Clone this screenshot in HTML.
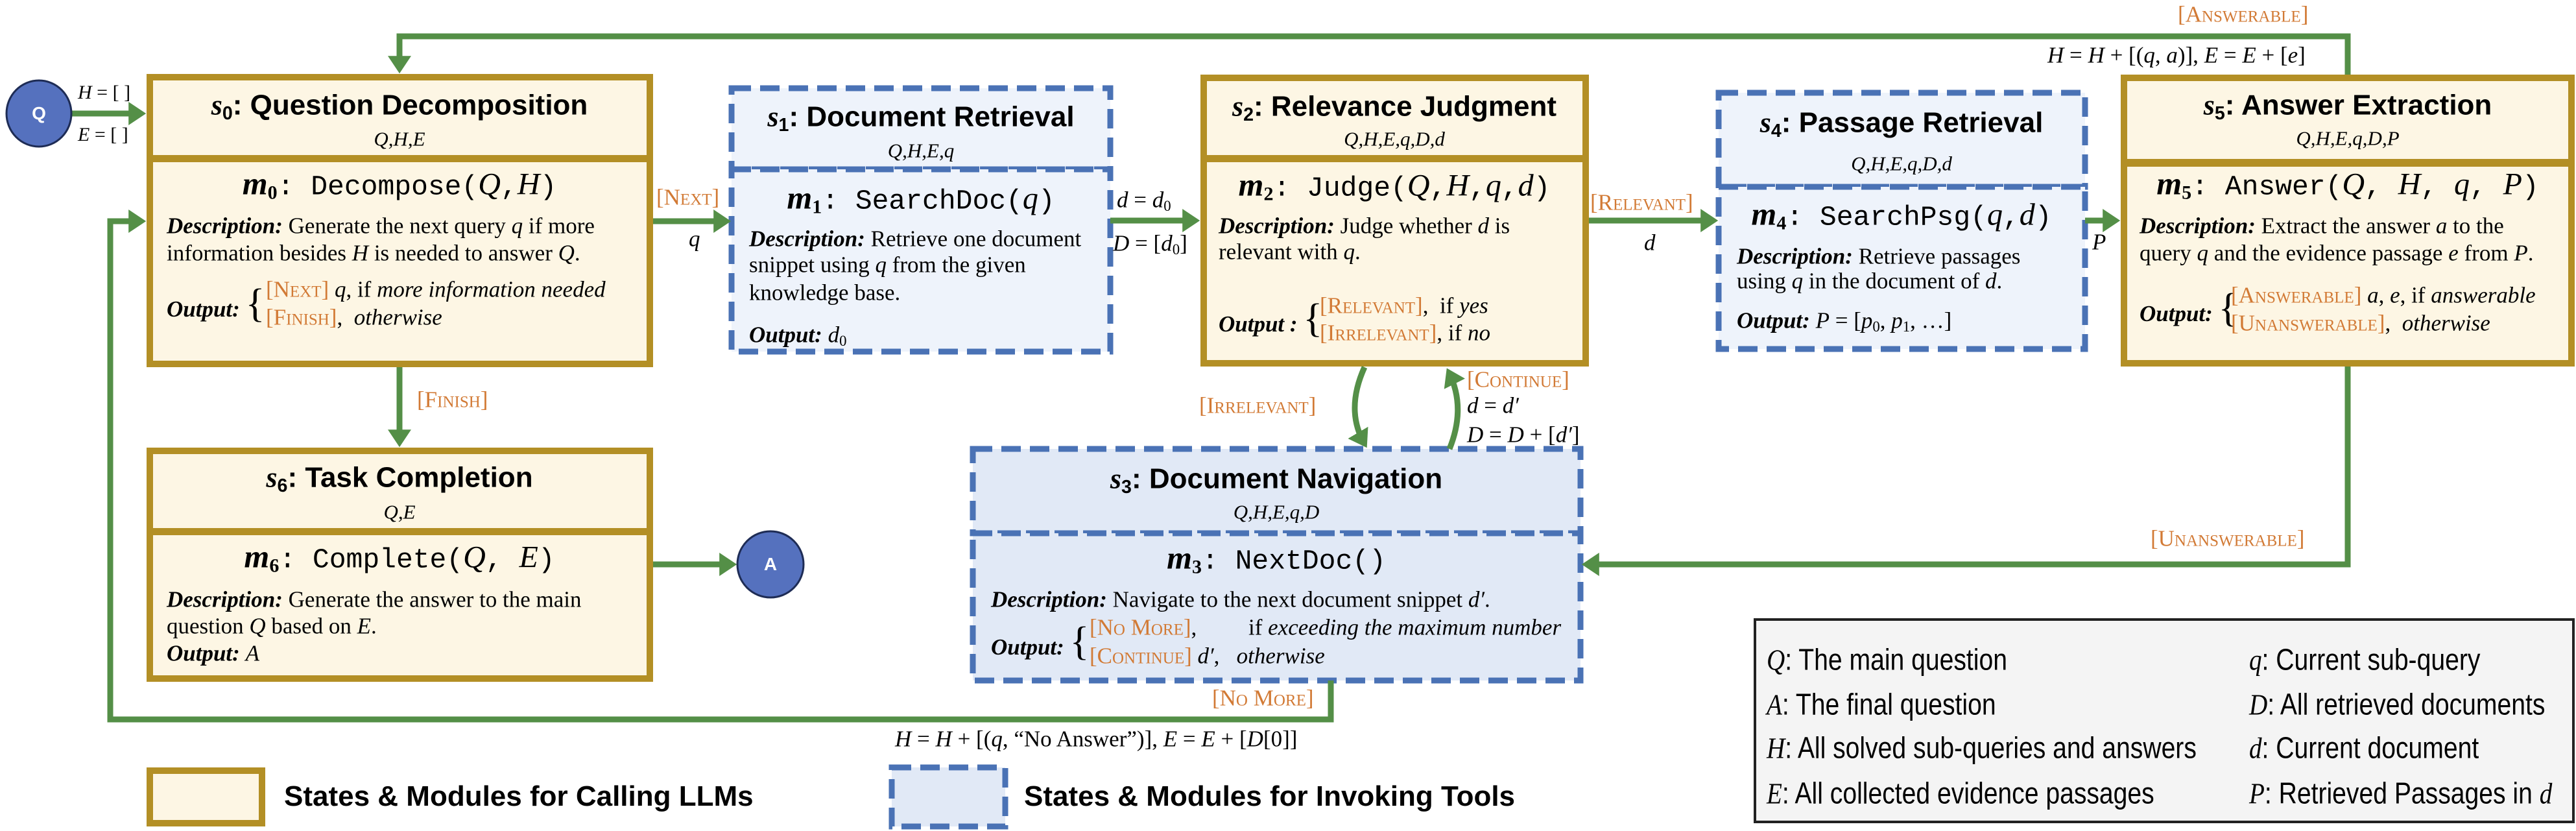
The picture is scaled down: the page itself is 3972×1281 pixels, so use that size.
<!DOCTYPE html>
<html><head><meta charset="utf-8"><style>
body{margin:0;width:3972px;height:1281px;background:#fff;position:relative;overflow:hidden;font-family:"Liberation Serif",serif;}
.t{position:absolute;white-space:nowrap;line-height:1;transform:translateY(-50%);}
.c{transform:translate(-50%,-50%);}
.h{font-family:"Liberation Sans Narrow","Liberation Sans",sans-serif;font-weight:bold;font-size:44px;}
.h i{font-family:"Liberation Serif",serif;}
.sub{font-style:italic;font-size:31px;}
.m{font-family:"Liberation Mono",monospace;font-size:43px;}
.m b{font-family:"Liberation Serif",serif;font-style:italic;font-size:50px;}
.m i{font-family:"Liberation Serif",serif;font-size:48px;}
.d{font-size:35px;}
.o{color:#d27a35;font-variant:small-caps;}
.lg{font-family:"Liberation Sans Narrow","Liberation Sans",sans-serif;font-size:46px;transform:translateY(-50%) scaleX(0.85);transform-origin:left center;}
.lg i{font-family:"Liberation Serif",serif;}
sub{font-size:65%;vertical-align:-0.25em;}
</style></head><body>
<svg width="3972" height="1281" style="position:absolute;left:0;top:0">
<defs><marker id="a" markerWidth="4" markerHeight="4" refX="2.2" refY="2" orient="auto" markerUnits="strokeWidth"><path d="M0,0 L3,2 L0,4 z" fill="#548f47"/></marker></defs>
<g fill="#b38f25">
<rect x="226" y="114" width="781" height="452"/><rect x="1851" y="115" width="599" height="450"/><rect x="3270" y="115" width="700" height="450"/><rect x="226" y="690" width="781" height="361"/><rect x="226" y="1183" width="183" height="91"/></g>
<g fill="#fdf6e4">
<rect x="236" y="124" width="761" height="115"/><rect x="236" y="250" width="761" height="306"/>
<rect x="1861" y="125" width="579" height="114"/><rect x="1861" y="250" width="579" height="305"/>
<rect x="3280" y="125" width="680" height="120"/><rect x="3280" y="257" width="680" height="298"/>
<rect x="236" y="700" width="761" height="114"/><rect x="236" y="825" width="761" height="216"/>
<rect x="236" y="1193" width="163" height="71"/></g>
<g stroke="#4a72b5" stroke-width="9" stroke-dasharray="30 14">
<rect x="1128" y="136" width="584" height="125" fill="#eef3fb"/><rect x="1128" y="261" width="584" height="281" fill="#eef3fb"/>
<rect x="2650" y="143" width="565" height="145" fill="#eef3fb"/><rect x="2650" y="288" width="565" height="250" fill="#eef3fb"/>
<rect x="1500" y="692" width="937" height="130" fill="#e1e9f6"/><rect x="1500" y="822" width="937" height="227" fill="#e1e9f6"/>
<rect x="1375" y="1183" width="175" height="91" fill="#e1e9f6"/></g>
<rect x="2706" y="955" width="1262" height="312" fill="#f4f4f4" stroke="#222" stroke-width="4"/>
<g stroke="#548f47" stroke-width="9" fill="none" marker-end="url(#a)">
<polyline points="3620,115 3620,56 616,56 616,106"/>
<polyline points="2052,1049 2052,1109 170,1109 170,341 218,341"/>
<polyline points="3620,565 3620,870 2446,870"/>
<line x1="110" y1="175" x2="218" y2="175"/>
<line x1="1007" y1="341" x2="1120" y2="341"/>
<line x1="1712" y1="340" x2="1843" y2="340"/>
<line x1="2450" y1="340" x2="2642" y2="340"/>
<line x1="3215" y1="340" x2="3262" y2="340"/>
<line x1="616" y1="566" x2="616" y2="682"/>
<line x1="1007" y1="870" x2="1129" y2="870"/>
<path d="M2104,566 C2084,610 2084,650 2104,684"/>
<path d="M2235,692 C2252,650 2252,610 2234,574"/>
</g>
<ellipse cx="60" cy="175" rx="50" ry="51" fill="#5571be" stroke="#1e2c55" stroke-width="3"/>
<ellipse cx="1188" cy="870" rx="51" ry="51" fill="#5571be" stroke="#1e2c55" stroke-width="3"/>
</svg>
<div class="t c" style="left:60px;top:175px;color:#fff;font-family:'Liberation Sans';font-weight:bold;font-size:28px">Q</div>
<div class="t c" style="left:1188px;top:870px;color:#fff;font-family:'Liberation Sans';font-weight:bold;font-size:28px">A</div>
<div class="t sub" style="left:120px;top:143px;font-size:30px">H <span style="font-style:normal">= [ ]</span></div>
<div class="t sub" style="left:120px;top:208px;font-size:30px">E <span style="font-style:normal">= [ ]</span></div>

<!-- s0 -->
<div class="t c h" style="left:616px;top:165px"><i>s</i><sub>0</sub>: Question Decomposition</div>
<div class="t c sub" style="left:616px;top:214px">Q,H,E</div>
<div class="t c m" style="left:616px;top:286px"><b>m</b><sub><b style="font-size:30px;font-style:normal">0</b></sub>: Decompose(<i>Q</i>,<i>H</i>)</div>
<div class="t d" style="left:257px;top:348px"><b><i>Description:</i></b> Generate the next query <i>q</i> if more</div>
<div class="t d" style="left:257px;top:390px">information besides <i>H</i> is needed to answer <i>Q</i>.</div>
<div class="t d" style="left:257px;top:468px"><b><i>Output:</i></b> <span style="font-size:62px;font-weight:100">{</span></div>
<div class="t d" style="left:410px;top:446px"><span class="o">[Next]</span> <i>q</i>, if <i>more information needed</i></div>
<div class="t d" style="left:410px;top:489px"><span class="o">[Finish]</span>, &nbsp;<i>otherwise</i></div>

<!-- s1 -->
<div class="t c h" style="left:1420px;top:183px"><i>s</i><sub>1</sub>: Document Retrieval</div>
<div class="t c sub" style="left:1420px;top:232px">Q,H,E,q</div>
<div class="t c m" style="left:1420px;top:308px"><b>m</b><sub><b style="font-size:30px;font-style:normal">1</b></sub>: SearchDoc(<i>q</i>)</div>
<div class="t d" style="left:1155px;top:368px"><b><i>Description:</i></b> Retrieve one document</div>
<div class="t d" style="left:1155px;top:408px">snippet using <i>q</i> from the given</div>
<div class="t d" style="left:1155px;top:451px">knowledge base.</div>
<div class="t d" style="left:1155px;top:518px"><b><i>Output:</i></b> <i>d</i><sub>0</sub></div>

<!-- s2 -->
<div class="t c h" style="left:2150px;top:167px"><i>s</i><sub>2</sub>: Relevance Judgment</div>
<div class="t c sub" style="left:2150px;top:214px">Q,H,E,q,D,d</div>
<div class="t c m" style="left:2150px;top:288px"><b>m</b><sub><b style="font-size:30px;font-style:normal">2</b></sub>: Judge(<i>Q</i>,<i>H</i>,<i>q</i>,<i>d</i>)</div>
<div class="t d" style="left:1879px;top:348px"><b><i>Description:</i></b> Judge whether <i>d</i> is</div>
<div class="t d" style="left:1879px;top:388px">relevant with <i>q</i>.</div>
<div class="t d" style="left:1879px;top:491px"><b><i>Output :</i></b> <span style="font-size:62px;font-weight:100">{</span></div>
<div class="t d" style="left:2035px;top:471px"><span class="o">[Relevant]</span>, &nbsp;if <i>yes</i></div>
<div class="t d" style="left:2035px;top:513px"><span class="o">[Irrelevant]</span>, if <i>no</i></div>

<!-- s4 -->
<div class="t c h" style="left:2932px;top:192px"><i>s</i><sub>4</sub>: Passage Retrieval</div>
<div class="t c sub" style="left:2932px;top:252px">Q,H,E,q,D,d</div>
<div class="t c m" style="left:2932px;top:333px"><b>m</b><sub><b style="font-size:30px;font-style:normal">4</b></sub>: SearchPsg(<i>q</i>,<i>d</i>)</div>
<div class="t d" style="left:2678px;top:395px"><b><i>Description:</i></b> Retrieve passages</div>
<div class="t d" style="left:2678px;top:433px">using <i>q</i> in the document of <i>d</i>.</div>
<div class="t d" style="left:2678px;top:496px"><b><i>Output:</i></b> <i>P</i> = [<i>p</i><sub>0</sub>, <i>p</i><sub>1</sub>, …]</div>

<!-- s5 -->
<div class="t c h" style="left:3620px;top:165px"><i>s</i><sub>5</sub>: Answer Extraction</div>
<div class="t c sub" style="left:3620px;top:213px">Q,H,E,q,D,P</div>
<div class="t c m" style="left:3620px;top:286px"><b>m</b><sub><b style="font-size:30px;font-style:normal">5</b></sub>: Answer(<i>Q</i>, <i>H</i>, <i>q</i>, <i>P</i>)</div>
<div class="t d" style="left:3299px;top:348px"><b><i>Description:</i></b> Extract the answer <i>a</i> to the</div>
<div class="t d" style="left:3299px;top:390px">query <i>q</i> and the evidence passage <i>e</i> from <i>P</i>.</div>
<div class="t d" style="left:3299px;top:475px"><b><i>Output:</i></b> <span style="font-size:62px;font-weight:100">{</span></div>
<div class="t d" style="left:3440px;top:455px"><span class="o">[Answerable]</span> <i>a</i>, <i>e</i>, if <i>answerable</i></div>
<div class="t d" style="left:3440px;top:498px"><span class="o">[Unanswerable]</span>, &nbsp;<i>otherwise</i></div>

<!-- s6 -->
<div class="t c h" style="left:616px;top:739px"><i>s</i><sub>6</sub>: Task Completion</div>
<div class="t c sub" style="left:616px;top:789px">Q,E</div>
<div class="t c m" style="left:616px;top:861px"><b>m</b><sub><b style="font-size:30px;font-style:normal">6</b></sub>: Complete(<i>Q</i>, <i>E</i>)</div>
<div class="t d" style="left:257px;top:924px"><b><i>Description:</i></b> Generate the answer to the main</div>
<div class="t d" style="left:257px;top:965px">question <i>Q</i> based on <i>E</i>.</div>
<div class="t d" style="left:257px;top:1007px"><b><i>Output:</i></b> <i>A</i></div>

<!-- s3 -->
<div class="t c h" style="left:1968px;top:741px"><i>s</i><sub>3</sub>: Document Navigation</div>
<div class="t c sub" style="left:1968px;top:789px">Q,H,E,q,D</div>
<div class="t c m" style="left:1968px;top:863px"><b>m</b><sub><b style="font-size:30px;font-style:normal">3</b></sub>: NextDoc()</div>
<div class="t d" style="left:1528px;top:924px"><b><i>Description:</i></b> Navigate to the next document snippet <i>d′</i>.</div>
<div class="t d" style="left:1528px;top:989px"><b><i>Output:</i></b> <span style="font-size:62px;font-weight:100">{</span></div>
<div class="t d" style="left:1680px;top:967px"><span class="o">[No More]</span>,</div>
<div class="t d" style="left:1925px;top:967px">if <i>exceeding the maximum number</i></div>
<div class="t d" style="left:1680px;top:1011px"><span class="o">[Continue]</span> <i>d′</i>, &nbsp;&nbsp;<i>otherwise</i></div>

<!-- edge labels -->
<div class="t d o" style="left:1012px;top:304px">[Next]</div>
<div class="t d" style="left:1062px;top:368px"><i>q</i></div>
<div class="t d" style="left:1722px;top:310px"><i>d</i> = <i>d</i><sub>0</sub></div>
<div class="t d" style="left:1716px;top:377px"><i>D</i> = [<i>d</i><sub>0</sub>]</div>
<div class="t d o" style="left:2452px;top:312px">[Relevant]</div>
<div class="t d" style="left:2535px;top:374px"><i>d</i></div>
<div class="t d" style="left:3226px;top:373px"><i>P</i></div>
<div class="t d o" style="left:643px;top:616px">[Finish]</div>
<div class="t d o" style="left:1849px;top:625px">[Irrelevant]</div>
<div class="t d o" style="left:2262px;top:585px">[Continue]</div>
<div class="t d" style="left:2262px;top:625px"><i>d</i> = <i>d′</i></div>
<div class="t d" style="left:2262px;top:670px"><i>D</i> = <i>D</i> + [<i>d′</i>]</div>
<div class="t d o" style="left:1869px;top:1076px">[No More]</div>
<div class="t d" style="left:1380px;top:1139px"><i>H</i> = <i>H</i> + [(<i>q</i>, “No Answer”)], <i>E</i> = <i>E</i> + [<i>D</i>[0]]</div>
<div class="t d o" style="left:3358px;top:22px">[Answerable]</div>
<div class="t d" style="left:3157px;top:85px"><i>H</i> = <i>H</i> + [(<i>q</i>, <i>a</i>)], <i>E</i> = <i>E</i> + [<i>e</i>]</div>
<div class="t d o" style="left:3316px;top:830px">[Unanswerable]</div>

<!-- legend -->
<div class="t h" style="left:438px;top:1228px">States &amp; Modules for Calling LLMs</div>
<div class="t h" style="left:1579px;top:1228px">States &amp; Modules for Invoking Tools</div>
<div class="t lg" style="left:2724px;top:1017px"><i>Q</i>: The main question</div>
<div class="t lg" style="left:2724px;top:1086px"><i>A</i>: The final question</div>
<div class="t lg" style="left:2724px;top:1153px"><i>H</i>: All solved sub-queries and answers</div>
<div class="t lg" style="left:2724px;top:1223px"><i>E</i>: All collected evidence passages</div>
<div class="t lg" style="left:3468px;top:1017px"><i>q</i>: Current sub-query</div>
<div class="t lg" style="left:3468px;top:1086px"><i>D</i>: All retrieved documents</div>
<div class="t lg" style="left:3468px;top:1153px"><i>d</i>: Current document</div>
<div class="t lg" style="left:3468px;top:1223px"><i>P</i>: Retrieved Passages in <i>d</i></div>
</body></html>
